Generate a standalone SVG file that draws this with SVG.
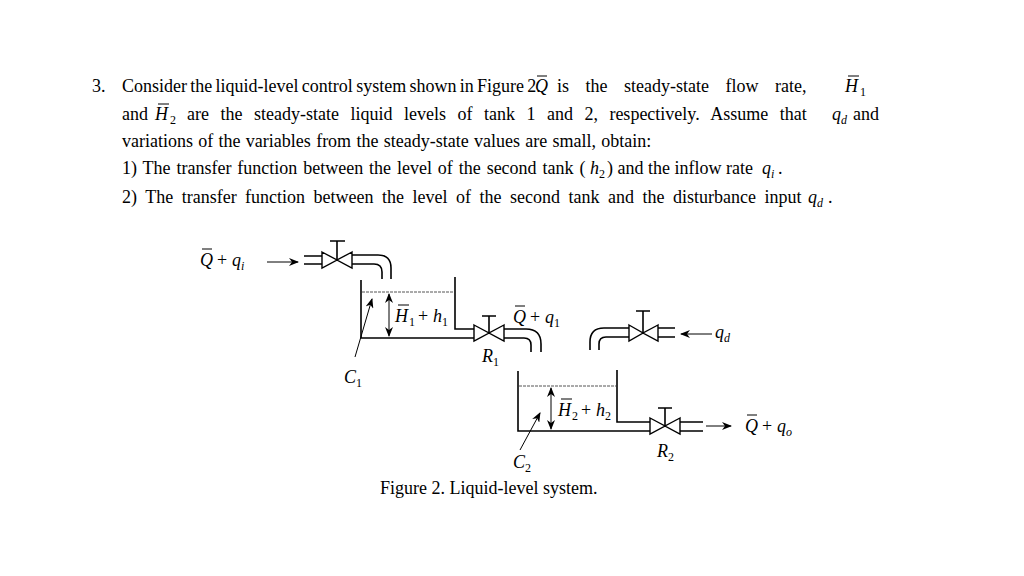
<svg xmlns="http://www.w3.org/2000/svg" width="1024" height="576" viewBox="0 0 1024 576">
<style>
text{font-family:"Liberation Serif","Times New Roman",serif;font-size:18px;fill:#000}
.i{font-style:italic}
.s{font-size:12px}
.l{stroke:#000;stroke-width:1.6;fill:none}
.t{stroke:#000;stroke-width:1;fill:none}
.v{stroke:#000;stroke-width:1.4;fill:#fff}
</style>
<defs>
<marker id="a" markerWidth="10" markerHeight="8" refX="9" refY="4" orient="auto" markerUnits="userSpaceOnUse"><path d="M0,0 L10,4 L0,8 L3,4 Z" fill="#000"/></marker>
<marker id="b" markerWidth="10" markerHeight="8" refX="1" refY="4" orient="auto" markerUnits="userSpaceOnUse"><path d="M10,0 L0,4 L10,8 L7,4 Z" fill="#000"/></marker>
</defs>
<rect width="1024" height="576" fill="#fff"/>
<g id="text">
<text x="92" y="92">3.</text>
<text x="122" y="92" word-spacing="-1.2">Consider the liquid-level control system shown in Figure 2.</text>
<text x="535" y="92" class="i">Q</text><line x1="537" y1="76" x2="547" y2="76" class="t"/>
<text x="557" y="92" word-spacing="12">is the steady-state flow rate,</text>
<text x="845" y="92" class="i">H</text><text x="860" y="96" class="s">1</text><line x1="848" y1="76" x2="859" y2="76" class="t"/>
<text x="122" y="120">and</text>
<text x="155" y="120" class="i">H</text><text x="170" y="124" class="s">2</text><line x1="158" y1="104" x2="169" y2="104" class="t"/>
<text x="187" y="120" word-spacing="7">are the steady-state liquid levels of tank 1 and 2, respectively. Assume that</text>
<text x="832" y="120" class="i">q</text><text x="841" y="124" class="s i">d</text>
<text x="853" y="120">and</text>
<text x="122" y="147" word-spacing="0.8">variations of the variables from the steady-state values are small, obtain:</text>
<text x="122" y="174" word-spacing="1.4">1) The transfer function between the level of the second tank (</text>
<text x="590" y="174" class="i">h</text><text x="599" y="178" class="s">2</text>
<text x="607" y="174">) and the inflow rate</text>
<text x="762" y="174" class="i">q</text><text x="771" y="178" class="s i">i</text>
<text x="778" y="174">.</text>
<text x="122" y="203" word-spacing="4">2) The transfer function between the level of the second tank and the disturbance input</text>
<text x="808" y="203" class="i">q</text><text x="817" y="207" class="s i">d</text>
<text x="828" y="203">.</text>
<text x="380" y="494">Figure 2. Liquid-level system.</text>
</g>
<g id="inlet">
<text x="200" y="266" class="i">Q</text><line x1="202" y1="249" x2="212" y2="249" class="t"/>
<text x="217" y="266">+</text><text x="232" y="266" class="i">q</text><text x="241" y="270" class="s i">i</text>
<line x1="267" y1="262" x2="298" y2="262" class="t" marker-end="url(#a)"/>
<path d="M304,256 H323 M304,264 H323" class="l"/>
<path d="M352,255 H378 Q391,255 391,268 V279 M352,264 H374 Q382,264 382,272 V279" class="l"/>
<path d="M322,252 L337,260 L322,268 Z M352,252 L337,260 L352,268 Z" class="v"/>
<path d="M337,260 V241 M330,241 H345" class="l"/>
</g>
<g id="tank1">
<path d="M361,280 V338 H474 M455,277 V329 H474" class="l"/>
<path d="M362,292 H454" stroke="#555" stroke-width="1" stroke-dasharray="3,1"/>
<line x1="389" y1="294" x2="389" y2="336" class="t" marker-start="url(#b)" marker-end="url(#a)"/>
<text x="395" y="322" class="i">H</text><text x="409" y="326" class="s">1</text><line x1="398" y1="305" x2="409" y2="305" class="t"/>
<text x="418" y="322">+</text><text x="433" y="322" class="i">h</text><text x="442" y="326" class="s">1</text>
<line x1="355" y1="357" x2="372" y2="299" class="t" marker-end="url(#a)"/>
<text x="344" y="383" class="i">C</text><text x="356" y="387" class="s">1</text>
</g>
<g id="valveR1">
<path d="M504,329 H526 Q541,329 541,344 V352 M504,338 H524 Q531,338 531,345 V352" class="l"/>
<path d="M474,325 L489,333 L474,341 Z M504,325 L489,333 L504,341 Z" class="v"/>
<path d="M489,333 V316 M482,316 H496" class="l"/>
<text x="482" y="362" class="i">R</text><text x="493" y="366" class="s">1</text>
<text x="513" y="323" class="i">Q</text><line x1="515" y1="306" x2="525" y2="306" class="t"/>
<text x="530" y="323">+</text><text x="545" y="323" class="i">q</text><text x="554" y="327" class="s">1</text>
</g>
<g id="disturbance">
<path d="M629,328 H604 Q590,328 590,342 V350 M629,337 H606 Q599,337 599,344 V350" class="l"/>
<path d="M658,328 H675 M658,337 H675" class="l"/>
<path d="M629,325 L643,333 L629,341 Z M658,325 L643,333 L658,341 Z" class="v"/>
<path d="M643,333 V311 M636,311 H650" class="l"/>
<line x1="712" y1="334" x2="681" y2="334" class="t" marker-end="url(#a)"/>
<text x="715" y="338" class="i">q</text><text x="724" y="342" class="s i">d</text>
</g>
<g id="tank2">
<path d="M518,371 V431 H650 M617,370 V422 H650" class="l"/>
<path d="M519,386 H616" stroke="#555" stroke-width="1" stroke-dasharray="3,1"/>
<line x1="551" y1="388" x2="551" y2="429" class="t" marker-start="url(#b)" marker-end="url(#a)"/>
<text x="558" y="416" class="i">H</text><text x="572" y="420" class="s">2</text><line x1="561" y1="399" x2="572" y2="399" class="t"/>
<text x="581" y="416">+</text><text x="596" y="416" class="i">h</text><text x="605" y="420" class="s">2</text>
<line x1="520" y1="450" x2="540" y2="413" class="t" marker-end="url(#a)"/>
<text x="513" y="468" class="i">C</text><text x="525" y="472" class="s">2</text>
</g>
<g id="valveR2">
<path d="M680,422 H703 M680,431 H703" class="l"/>
<path d="M650,418 L665,426 L650,434 Z M680,418 L665,426 L680,434 Z" class="v"/>
<path d="M665,426 V408 M658,408 H672" class="l"/>
<line x1="706" y1="426" x2="731" y2="426" class="t" marker-end="url(#a)"/>
<text x="657" y="457" class="i">R</text><text x="668" y="461" class="s">2</text>
<text x="745" y="432" class="i">Q</text><line x1="747" y1="415" x2="757" y2="415" class="t"/>
<text x="762" y="432">+</text><text x="777" y="432" class="i">q</text><text x="786" y="436" class="s i">o</text>
</g>
</svg>
